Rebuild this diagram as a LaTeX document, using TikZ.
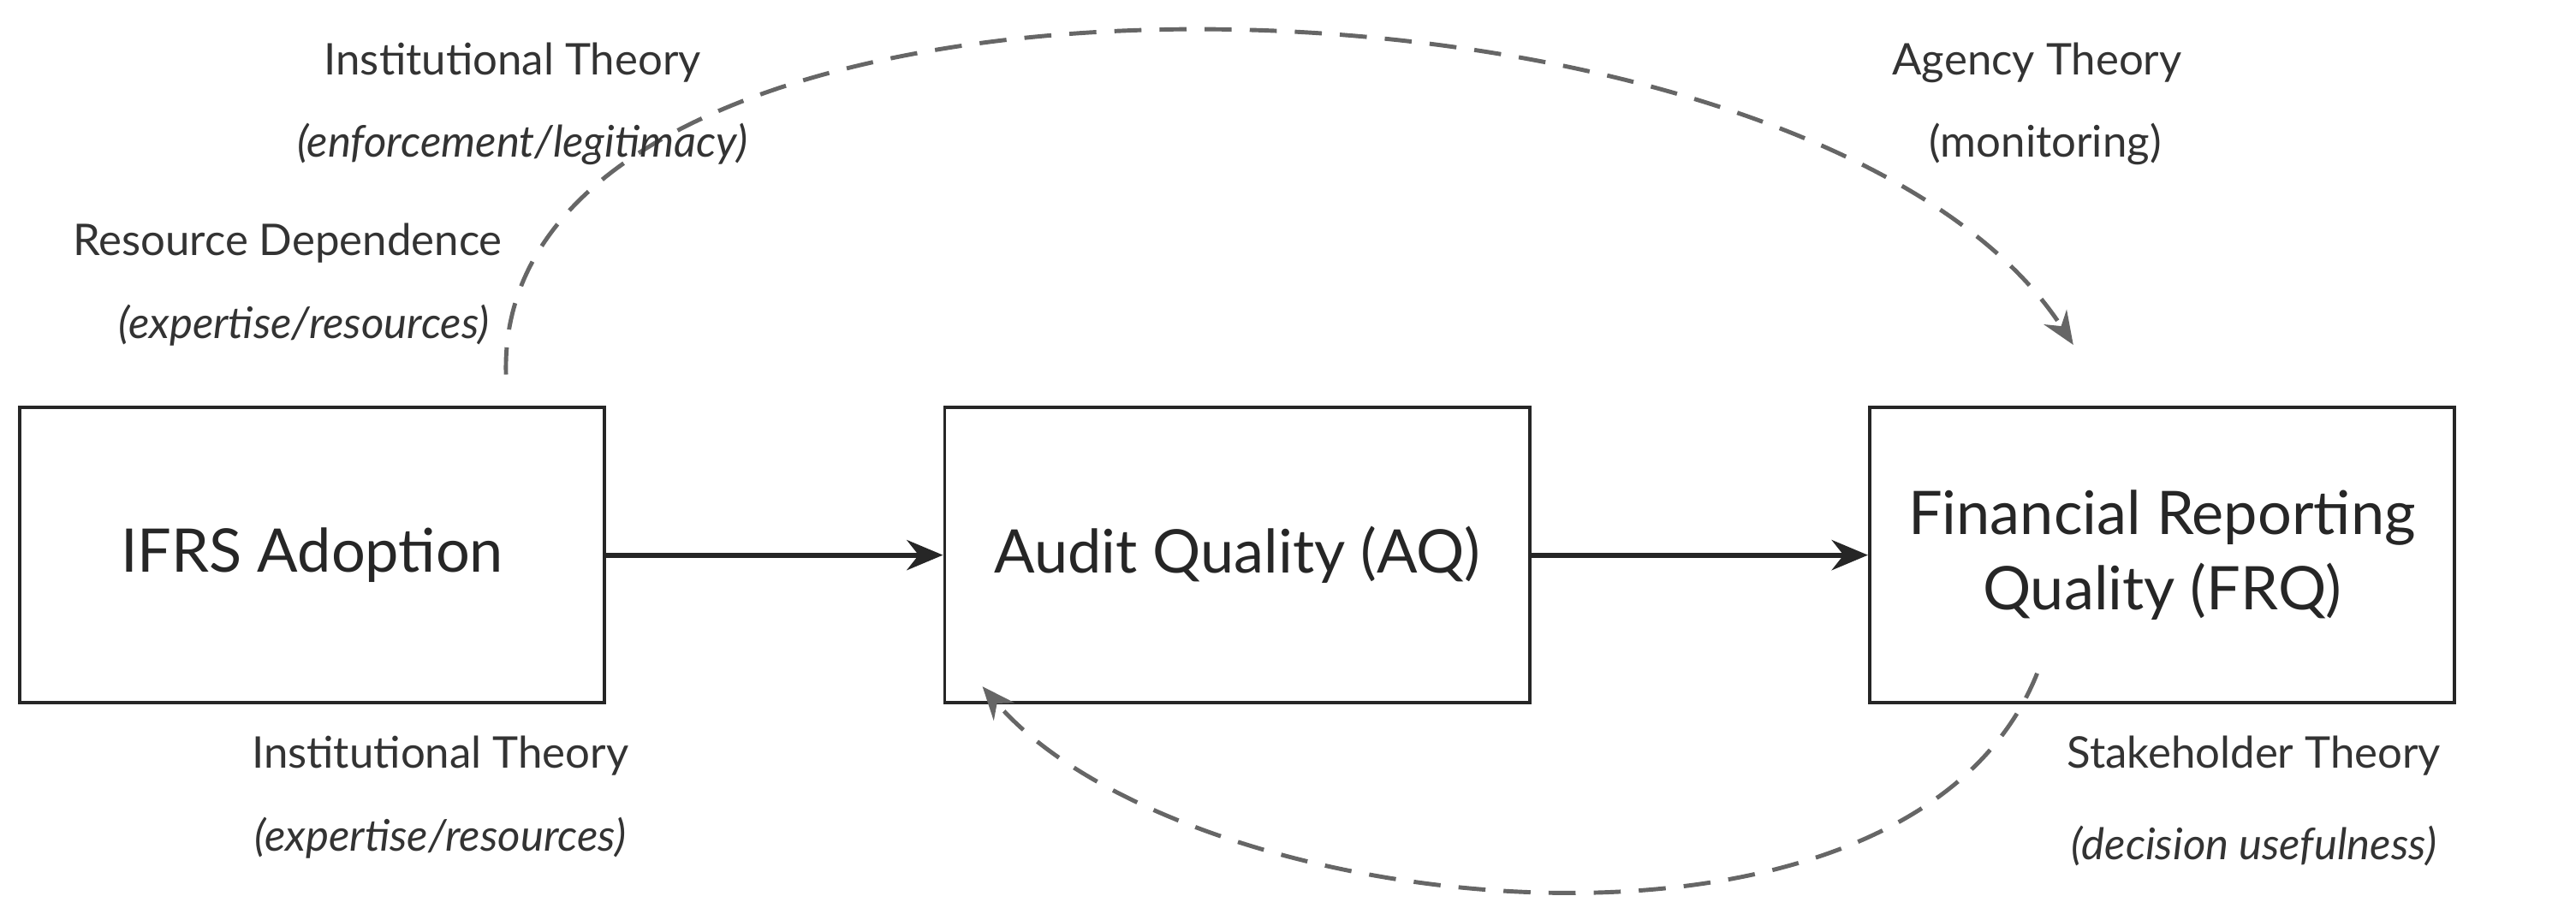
\documentclass[tikz,border=0pt]{standalone}
\usepackage{fontspec}
\setmainfont{Lato}
\usetikzlibrary{arrows.meta}
\begin{document}
\begin{tikzpicture}[x=0.01919cm,y=-0.01919cm,
 box/.style={draw=black!85,line width=1.1pt,minimum width=356*0.01919cm,minimum height=180*0.01919cm,align=center,font=\fontsize{20}{25}\selectfont,text=black!85},
 lab/.style={font=\fontsize{14.5}{17}\selectfont,text=black!80},
 sub/.style={lab,font=\fontsize{14.5}{17}\selectfont\itshape},
 solid arr/.style={line width=1.7pt,draw=black!85,-{Stealth[length=12pt,width=10pt]}},
 dash arr/.style={line width=1.4pt,draw=black!60,dash pattern=on 9pt off 6pt,-{Stealth[length=11pt,width=9pt]}}]
\useasboundingbox (0,0) rectangle (1568,549);
\node[box] (ifrs) at (190,338) {IFRS Adoption};
\node[box] (aq) at (753,338) {Audit Quality (AQ)};
\node[box] (frq) at (1316,338) {Financial Reporting\\Quality (FRQ)};
\draw[solid arr] (ifrs) -- (aq);
\draw[solid arr] (aq) -- (frq);
\coordinate (s1) at (308,228);
\coordinate (e1) at (1262,210);
\draw[dash arr] (s1) .. controls (300,-55) and (1100,-40) .. (e1);
\coordinate (s2) at (1240,410);
\coordinate (e2) at (598,418);
\draw[dash arr] (s2) .. controls (1160,610) and (720,560) .. (e2);
\node[lab] (t1) at (312,38) {Institutional Theory};
\node[sub] (t1s) at (318,88) {(enforcement/legitimacy)};
\node[lab] (t2) at (175,148) {Resource Dependence};
\node[sub] (t2s) at (185,198) {(expertise/resources)};
\node[lab] (t3) at (1240,38) {Agency Theory};
\node[lab] (t3s) at (1245,88) {(monitoring)};
\node[lab] (t4) at (268,460) {Institutional Theory};
\node[sub] (t4s) at (268,510) {(expertise/resources)};
\node[lab] (t5) at (1372,460) {Stakeholder Theory};
\node[sub] (t5s) at (1372,515) {(decision usefulness)};
\end{tikzpicture}
\end{document}
